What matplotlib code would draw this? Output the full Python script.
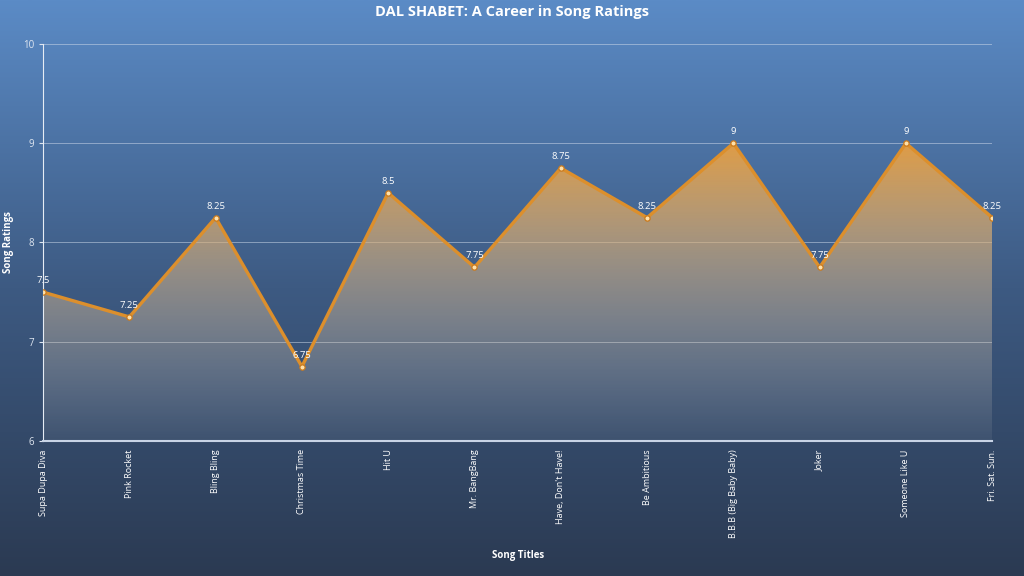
import numpy as np
import matplotlib
matplotlib.use("Agg")
import matplotlib.pyplot as plt
from matplotlib.colors import LinearSegmentedColormap

songs = ["Supa Dupa Diva", "Pink Rocket", "Bling Bling", "Christmas Time", "Hit U",
         "Mr. BangBang", "Have, Don't Have!", "Be Ambitious", "B.B.B (Big Baby Baby)",
         "Joker", "Someone Like U", "Fri. Sat. Sun."]
ratings = [7.5, 7.25, 8.25, 6.75, 8.5, 7.75, 8.75, 8.25, 9, 7.75, 9, 8.25]

plt.rcParams['font.family'] = ['Open Sans', 'DejaVu Sans']

fig = plt.figure(figsize=(10.24, 5.76), dpi=100)

# background gradient over the whole figure
bg = fig.add_axes([0, 0, 1, 1], zorder=0)
bg_cmap = LinearSegmentedColormap.from_list("bg", ["#2b3a52", "#3d5a82", "#5b8bc6"])
grad = np.linspace(0, 1, 256).reshape(-1, 1)
bg.imshow(grad, aspect="auto", cmap=bg_cmap, origin="lower", extent=[0, 1, 0, 1])
bg.axis("off")

ax = fig.add_axes([0.042, 0.2344, 0.927, 0.6892], zorder=1)
ax.patch.set_alpha(0)

x = np.arange(len(songs))
ax.set_xlim(0, len(songs) - 1)
ax.set_ylim(6, 10)

# gradient fill under the line: orange at the top fading to a see-through grey
poly = ax.fill_between(x, 6, ratings, color="none", lw=0)
h = np.clip(np.linspace(0, 1, 256) / 0.75, 0, 1).reshape(-1, 1)
top = np.array([0.93, 0.63, 0.24])
low = np.array([0.78, 0.78, 0.78])
rgba = np.zeros((256, 1, 4))
rgba[..., :3] = low + (top - low) * h[..., None] ** 1.3
rgba[..., 3] = 0.08 + 0.84 * h
img = ax.imshow(rgba, aspect="auto", origin="lower", extent=[0, len(songs) - 1, 6, 10], zorder=2)
img.set_clip_path(poly.get_paths()[0], transform=ax.transData)

ax.plot(x, ratings, color="#dc8f2c", lw=2.4, zorder=3)
ax.plot(x, ratings, "o", ms=3.8, mfc="#ffe0a8", mec="#c9791c", mew=0.9, zorder=4)

for xi, v in zip(x, ratings):
    ax.annotate(f"{v:g}", (xi, v), xytext=(0, 5), textcoords="offset points",
                ha="center", va="bottom", color="white", fontsize=6.8, zorder=5)

ax.set_yticks([6, 7, 8, 9, 10])
ax.grid(axis="y", color="#d0dbea", lw=0.6, alpha=0.6)
ax.set_axisbelow(True)
ax.set_xticks(x)
ax.set_xticklabels(songs, rotation=90, color="white", fontsize=6.5)
ax.tick_params(axis="y", colors="#dfe6f0", labelsize=7, length=3)
ax.tick_params(axis="x", length=0, pad=6)
for sp in ["top", "right"]:
    ax.spines[sp].set_visible(False)
ax.spines["left"].set_color("#e6ecf4")
ax.spines["bottom"].set_color("#c8d4e6")
ax.spines["bottom"].set_linewidth(1.5)

ax.set_ylabel("Song Ratings", color="white", fontsize=7, fontweight="bold")
ax.yaxis.set_label_coords(-0.031, 0.5)
fig.text(0.506, 0.035, "Song Titles", ha="center", va="center",
         color="white", fontsize=7, fontweight="bold")
fig.text(0.5, 0.98, "DAL SHABET: A Career in Song Ratings", ha="center", va="center",
         color="white", fontsize=10.5, fontweight="bold")

fig.savefig("out.png", dpi=100)
